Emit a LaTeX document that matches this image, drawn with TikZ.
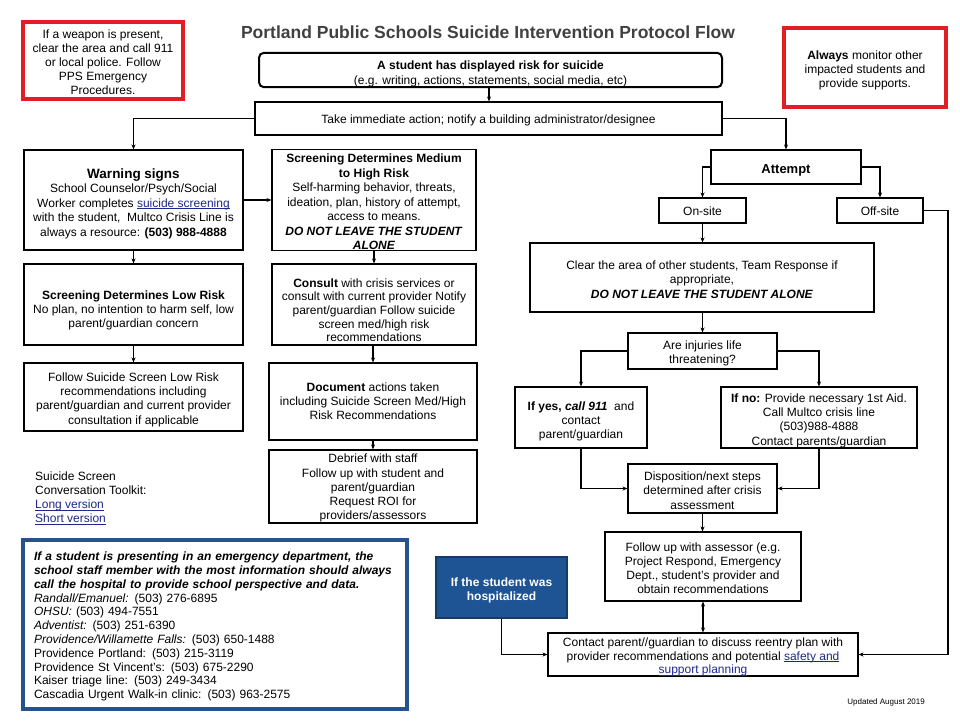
\documentclass[tikz,border=0pt]{standalone}
\usepackage{fontspec}
\setmainfont{Liberation Sans}
\usetikzlibrary{arrows.meta}
\definecolor{pred}{RGB}{226,30,36}
\definecolor{pblue}{RGB}{40,82,140}
\definecolor{hospblue}{RGB}{30,84,148}
\definecolor{titlegray}{RGB}{64,64,64}
\definecolor{linkc}{RGB}{30,40,140}
\newcommand\lnk[1]{\textcolor{linkc}{\underline{\smash{#1}}}}
\newcommand\up[1]{\rule{0pt}{#1pt}}
\begin{document}
\begin{tikzpicture}[x=1pt,y=-1pt,
  box/.style={draw, line width=1.1pt, inner sep=0pt, align=center, font=\fontsize{12}{14.2}\selectfont},
  sz/.style 2 args={minimum width=#1pt, minimum height=#2pt},
  redbox/.style={box, draw=pred, line width=4pt},
  arr/.style={-{Stealth[length=5pt,width=4pt]}, line width=1.1pt},
  arrs/.style={{Stealth[length=5pt,width=4pt]}-{Stealth[length=5pt,width=4pt]}, line width=1.1pt},
  lbl/.style={inner sep=0pt, align=left, font=\fontsize{12}{14}\selectfont}
]
\useasboundingbox[fill=white] (0,0) rectangle (960,720);

% title
\node[inner sep=0pt, text=titlegray, font=\fontsize{17.5}{20}\selectfont\bfseries] (title) at (488,32) {Portland Public Schools Suicide Intervention Protocol Flow};

% red notes
\node[redbox, sz={160}{77}] (weapon) at (103,60.5) {\up{12}If a weapon is present,\\ clear the area and call 911\\ or local police. Follow\\ PPS Emergency\\ Procedures.};
\node[redbox, sz={162}{79}] (always) at (865,67.5) {\up{14}\textbf{Always} monitor other\\ impacted students and\\ provide supports.};

% top flow
\node[box, sz={463}{34}, rounded corners=5pt, line width=2pt, font=\fontsize{12}{15}\selectfont] (student) at (490.5,70) {\up{17}\textbf{A student has displayed risk for suicide}\\ (e.g. writing, actions, statements, social media, etc)};
\node[box, sz={467}{33}] (take) at (488.5,118.5) {\up{13}Take immediate action; notify a building administrator/designee};

% left column
\node[box, sz={219}{100}, font=\fontsize{12}{14.5}\selectfont] (warning) at (133.5,200) {\up{17}{\fontsize{13.5}{15}\selectfont\textbf{Warning signs}}\\ School Counselor/Psych/Social\\ Worker completes \lnk{suicide screening}\\ with the student, \ Multco Crisis Line is\\ always a resource: \textbf{(503) 988-4888}};
\node[box, sz={219}{81}] (low) at (133.5,304.5) {\up{21}\textbf{Screening Determines Low Risk}\\ No plan, no intention to harm self, low\\ parent/guardian concern};
\node[box, sz={219}{68}] (followlow) at (133.5,397) {\up{14}Follow Suicide Screen Low Risk\\ recommendations including\\ parent/guardian and current provider\\ consultation if applicable};

\node[lbl, anchor=north west] (toolkit) at (35,471.5) {Suicide Screen\\ Conversation Toolkit:\\ \lnk{Long version}\\ \lnk{Short version}};

% middle column
\node[box, sz={204}{100}, font=\fontsize{12}{14.5}\selectfont] (medium) at (374,200) {\up{13}\textbf{Screening Determines Medium}\\ \textbf{to High Risk}\\ Self-harming behavior, threats,\\ ideation, plan, history of attempt,\\ access to means.\\ \textbf{\textit{DO NOT LEAVE THE STUDENT}}\\ \textbf{\textit{ALONE}}};
\node[box, sz={204}{81}, font=\fontsize{12}{13.6}\selectfont] (consult) at (374,304.5) {\up{20}\textbf{Consult} with crisis services or\\ consult with current provider Notify\\ parent/guardian Follow suicide\\ screen med/high risk\\ recommendations};
\node[box, sz={208}{77}] (document) at (373,401.5) {\textbf{Document} actions taken\\ including Suicide Screen Med/High\\ Risk Recommendations};
\node[box, sz={208}{73}] (debrief) at (373,486.5) {\up{12}Debrief with staff\\ Follow up with student and\\ parent/guardian\\ Request ROI for\\ providers/assessors};

% right side
\node[box, sz={150}{34}] (attempt) at (786,167) {\fontsize{13}{15}\selectfont\up{15.5}\textbf{Attempt}};
\node[box, sz={87}{25}] (onsite) at (702.5,210.5) {\up{11}On-site};
\node[box, sz={86}{25}] (offsite) at (880,210.5) {\up{11}Off-site};
\node[box, sz={344}{69}] (clear) at (702,277.5) {\up{13}Clear the area of other students, Team Response if\\ appropriate,\\ \textbf{\textit{DO NOT LEAVE THE STUDENT ALONE}}};
\node[box, sz={149}{36}] (injuries) at (702.5,351) {\up{13}Are injuries life\\ threatening?};
\node[box, sz={132}{61}] (ifyes) at (581,417.5) {\up{17}\textbf{If yes, \textit{call 911}} \ and\\ contact\\ parent/guardian};
\node[box, sz={196}{61}] (ifno) at (819,417.5) {\up{15}\textbf{If no:} Provide necessary 1st Aid.\\ Call Multco crisis line\\ (503)988-4888\\ Contact parents/guardian};
\node[box, sz={149}{49}] (dispo) at (702.5,488.5) {\up{13}Disposition/next steps\\ determined after crisis\\ assessment};
\node[box, sz={196}{69}] (followup) at (703,566.5) {\up{12}Follow up with assessor (e.g.\\ Project Respond, Emergency\\ Dept., student's provider and\\ obtain recommendations};
\node[box, sz={131}{61}, fill=hospblue, draw=hospblue!70!black, text=white] (hosp) at (501.5,587.5) {\up{15}\textbf{If the student was}\\ \textbf{hospitalized}};
\node[box, sz={310}{43}, font=\fontsize{12}{13.6}\selectfont] (contact) at (703,654.5) {\up{13}Contact parent//guardian to discuss reentry plan with\\ provider recommendations and potential \lnk{safety and}\\ \lnk{support planning}};

% ED box
\node[box, draw=pblue, line width=4pt, align=left, text width=362pt, inner xsep=11pt, minimum height=169pt, font=\fontsize{12}{13.8}\selectfont] (ed) at (215,624.5) {\up{13}\textbf{\textit{If a student is presenting in an emergency department, the}}\\ \textbf{\textit{school staff member with the most information should always}}\\ \textbf{\textit{call the hospital to provide school perspective and data.}}\\ \textit{Randall/Emanuel:} (503) 276-6895\\ \textit{OHSU:} (503) 494-7551\\ \textit{Adventist:} (503) 251-6390\\ \textit{Providence/Willamette Falls:} (503) 650-1488\\ Providence Portland: (503) 215-3119\\ Providence St Vincent's: (503) 675-2290\\ Kaiser triage line: (503) 249-3434\\ Cascadia Urgent Walk-in clinic: (503) 963-2575};

\node[inner sep=0pt, font=\fontsize{8}{9}\selectfont, anchor=east] (updated) at (925,702) {Updated August 2019};

% connectors
\draw[arr] (student.south -| 489,0) -- (489,0 |- take.north);
\draw[arr] (take.west) -| (warning.north);
\draw[arr] (take.east) -| (attempt.north);
\draw[arr] (warning.east) -- (medium.west);
\draw[arr] (warning.south) -- (low.north);
\draw[arr] (low.south) -- (followlow.north);
\draw[arr] (medium.south) -- (consult.north);
\draw[arr] (consult.south -| document.north) -- (document.north);
\draw[arr] (document.south) -- (debrief.north);
\draw[arr] (attempt.west) -| (onsite.north);
\draw[arr] (attempt.east) -| (offsite.north);
\draw[arr] (onsite.south) -- (onsite.south |- clear.north);
\draw[arr] (clear.south -| injuries.north) -- (injuries.north);
\draw[arr] (injuries.west) -| (ifyes.north);
\draw[arr] (injuries.east) -| (ifno.north);
\draw[arr] (ifyes.south) |- (dispo.west);
\draw[arr] (ifno.south) |- (dispo.east);
\draw[arr] (dispo.south) -- (dispo.south |- followup.north);
\draw[arrs] (followup.south) -- (followup.south |- contact.north);
\draw[arr] (hosp.south) |- (contact.west);
\coordinate (offr) at (948,210.5);
\draw[arr] (offsite.east) -- (offr) |- (contact.east);
\end{tikzpicture}
\end{document}
